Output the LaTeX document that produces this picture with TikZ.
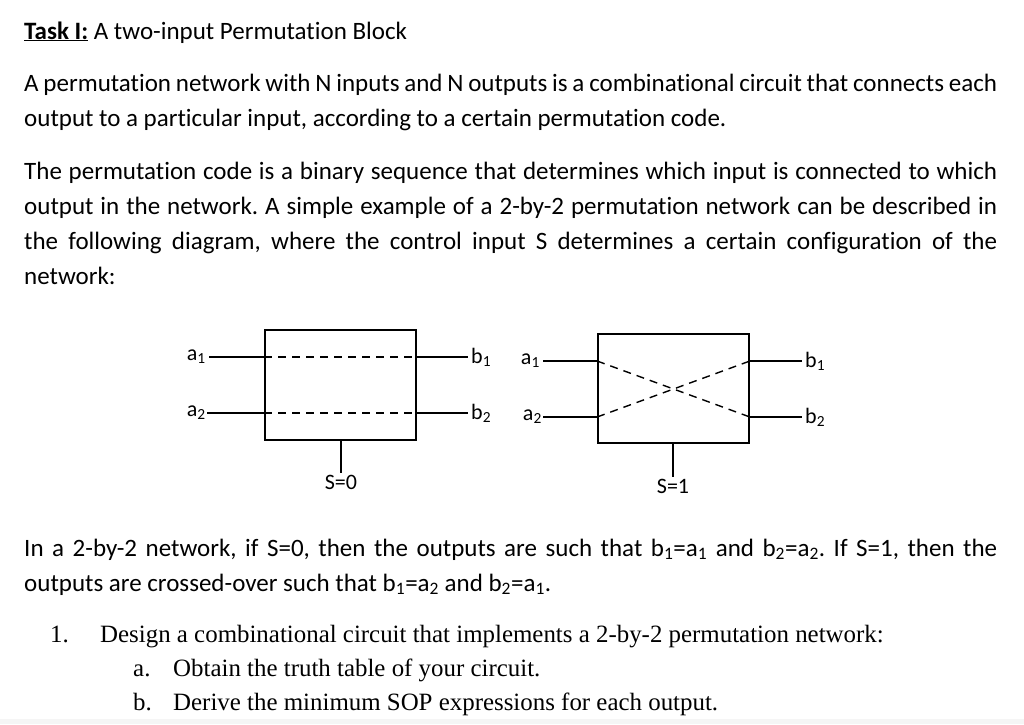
\documentclass[tikz,border=0pt]{standalone}
\usepackage{fontspec}
\setmainfont[RawFeature={-liga;-clig;-calt;-dlig}]{Carlito}
\newfontfamily\timesfont{Liberation Serif}
\usetikzlibrary{positioning}
\frenchspacing

\tikzset{
  textline/.style={anchor=base west, inner sep=0pt, font=\fontsize{25}{30}\selectfont},
  listline/.style={anchor=base west, inner sep=0pt, font=\timesfont\fontsize{24.9}{30}\selectfont},
  blockbox/.style={draw, line width=1.8pt, minimum width=151pt, minimum height=110pt, inner sep=0pt},
  wire/.style={line width=1.4pt},
  link/.style={line width=1.4pt, dash pattern=on 8pt off 6pt},
  portlabel/.style={inner sep=1pt, font=\fontsize{22}{24}\selectfont},
}

\begin{document}
\begin{tikzpicture}[x=1pt,y=-1pt]
  \useasboundingbox (0,0) rectangle (1024,724);
  \fill[gray!8] (0,719) rectangle (1024,724);

  % heading and text
  \node[textline] (title) at (24,39) {\underline{\textbf{Task I:}} A two-input Permutation Block};
  \node[textline] (p1a) at (24,91) {\makebox[973pt][s]{A permutation network with N inputs and N outputs is a combinational circuit that connects each}};
  \node[textline] (p1b) at (24,126) {output to a particular input, according to a certain permutation code.};
  \node[textline] (p2a) at (24,179) {\makebox[973pt][s]{The permutation code is a binary sequence that determines which input is connected to which}};
  \node[textline] (p2b) at (24,214) {\makebox[973pt][s]{output in the network. A simple example of a 2-by-2 permutation network can be described in}};
  \node[textline] (p2c) at (24,249) {\makebox[973pt][s]{the following diagram, where the control input S determines a certain configuration of the}};
  \node[textline] (p2d) at (24,284) {network:};

  % S=0 block
  \node[blockbox] (boxA) at (340.5,385) {};
  \coordinate (A1in) at (209,357);
  \coordinate (A2in) at (207,413);
  \coordinate (A1out) at (468,357);
  \coordinate (A2out) at (468,413);
  \coordinate (Asel) at (341,473);
  \draw[wire] (A1in) -- (A1in -| boxA.west);
  \draw[wire] (A2in) -- (A2in -| boxA.west);
  \draw[wire] (A1out -| boxA.east) -- (A1out);
  \draw[wire] (A2out -| boxA.east) -- (A2out);
  \draw[link] (A1in -| boxA.west) -- (A1out -| boxA.east);
  \draw[link] (A2in -| boxA.west) -- (A2out -| boxA.east);
  \draw[wire] (Asel |- boxA.south) -- (Asel);
  \node[portlabel, left=2pt of A1in] (Aa1) {a\textsubscript{1}};
  \node[portlabel, left=0pt of A2in] (Aa2) {a\textsubscript{2}};
  \node[portlabel, right=2pt of A1out] (Ab1) {b\textsubscript{1}};
  \node[portlabel, right=2pt of A2out] (Ab2) {b\textsubscript{2}};
  \node[portlabel, below=1pt of Asel] (As) {S=0};

  % S=1 block
  \node[blockbox, minimum height=109pt] (boxB) at (673.5,388.5) {};
  \coordinate (B1in) at (543,361);
  \coordinate (B2in) at (543,417);
  \coordinate (B1out) at (802,361);
  \coordinate (B2out) at (802,417);
  \coordinate (Bsel) at (673,477);
  \draw[wire] (B1in) -- (B1in -| boxB.west);
  \draw[wire] (B2in) -- (B2in -| boxB.west);
  \draw[wire] (B1out -| boxB.east) -- (B1out);
  \draw[wire] (B2out -| boxB.east) -- (B2out);
  \draw[link] (B1in -| boxB.west) -- (B2out -| boxB.east);
  \draw[link] (B2in -| boxB.west) -- (B1out -| boxB.east);
  \draw[wire] (Bsel |- boxB.south) -- (Bsel);
  \node[portlabel, left=2pt of B1in] (Ba1) {a\textsubscript{1}};
  \node[portlabel, left=0pt of B2in] (Ba2) {a\textsubscript{2}};
  \node[portlabel, right=2pt of B1out] (Bb1) {b\textsubscript{1}};
  \node[portlabel, right=2pt of B2out] (Bb2) {b\textsubscript{2}};
  \node[portlabel, below=1pt of Bsel] (Bs) {S=1};

  % text below
  \node[textline] (p3a) at (24,556) {\makebox[973pt][s]{In a 2-by-2 network, if S=0, then the outputs are such that b\textsubscript{1}=a\textsubscript{1} and b\textsubscript{2}=a\textsubscript{2}. If S=1, then the}};
  \node[textline] (p3b) at (24,591) {outputs are crossed-over such that b\textsubscript{1}=a\textsubscript{2} and b\textsubscript{2}=a\textsubscript{1}.};
  \node[listline] (n1) at (50,642) {1.};
  \node[listline] (t1) at (100,642) {Design a combinational circuit that implements a 2-by-2 permutation network:};
  \node[listline] (na) at (133,676) {a.};
  \node[listline] (ta) at (173,676) {Obtain the truth table of your circuit.};
  \node[listline] (nb) at (133,710) {b.};
  \node[listline] (tb) at (173,710) {Derive the minimum SOP expressions for each output.};
\end{tikzpicture}
\end{document}
